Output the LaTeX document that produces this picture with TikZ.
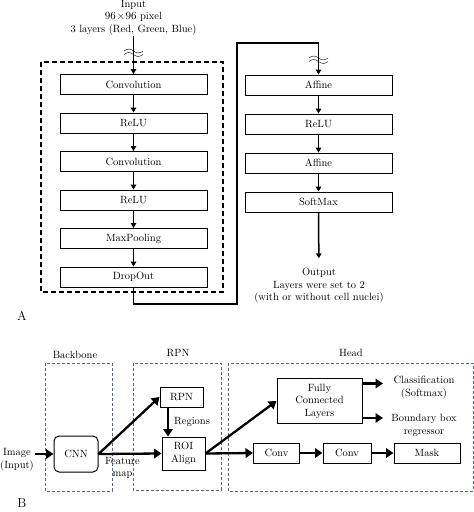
\documentclass[tikz,border=0pt]{standalone}
\usepackage{tikz}
\usetikzlibrary{arrows.meta, positioning}

\definecolor{grpblue}{RGB}{90,102,130}

\begin{document}
\begin{tikzpicture}[
        x=1pt, y=-1pt,
        font=\fontsize{10.5}{12.5}\selectfont,
        node distance=17.5pt,
        layer/.style={rectangle, draw=black, line width=1pt, minimum width=147pt, minimum height=20pt, inner sep=0pt},
        block/.style={rectangle, draw=black, line width=1pt, align=center, inner sep=2pt},
        note/.style={align=center, inner sep=1pt},
        frame/.style={draw=black, line width=1.6pt, dash pattern=on 5pt off 3pt},
        group/.style={draw=grpblue, line width=0.8pt, dash pattern=on 3pt off 2pt},
        arrow/.style={-{Triangle[length=5pt, width=5.5pt]}, line width=1.5pt},
        bigarrow/.style={-{Triangle[length=7.5pt, width=9.5pt]}, line width=2.3pt},
        tag/.style={font=\fontsize{13}{14}\selectfont}
    ]
        \useasboundingbox (0,0) rectangle (474,512);

        % A: network for nuclei classification
        \node[note] (input) at (133.5,17.5) {Input\\$96\!\times\!96$ pixel\\3 layers (Red, Green, Blue)};
        \node[layer] (conv1) at (133.5,84.5) {Convolution};
        \node[layer, below=of conv1] (relu1) {ReLU};
        \node[layer, below=of relu1] (conv2) {Convolution};
        \node[layer, below=of conv2] (relu2) {ReLU};
        \node[layer, below=of relu2] (pool) {MaxPooling};
        \node[layer, below=of pool] (drop) {DropOut};
        \draw[frame] (41,62) rectangle (223,292);

        \node[layer] (aff1) at (318.5,85) {Affine};
        \node[layer, below=18pt of aff1] (relu3) {ReLU};
        \node[layer, below=18pt of relu3] (aff2) {Affine};
        \node[layer, below=18pt of aff2] (soft) {SoftMax};
        \node[note] (output) at (319,286) {Output\\Layers were set to 2\\(with or without cell nuclei)};
        \node[tag] (tagA) at (22,316) {A};

        \draw[arrow] (input) -- (conv1);
        \draw[arrow] (conv1) -- (relu1);
        \draw[arrow] (relu1) -- (conv2);
        \draw[arrow] (conv2) -- (relu2);
        \draw[arrow] (relu2) -- (pool);
        \draw[arrow] (pool) -- (drop);
        \draw[arrow, line width=1.8pt] (drop.south) |- (237,304) -- (237,43) -| (aff1.north);
        \draw[arrow] (aff1) -- (relu3);
        \draw[arrow] (relu3) -- (aff2);
        \draw[arrow] (aff2) -- (soft);
        \draw[arrow, shorten >=9pt] (soft) -- (output);

        % breaks
        \draw[thin] (124,51) sin (128.75,49) cos (133.5,51) sin (138.25,53) cos (143,51);
        \draw[thin] (124,54.5) sin (128.75,52.5) cos (133.5,54.5) sin (138.25,56.5) cos (143,54.5);
        \draw[thin] (309,58) sin (313.75,56) cos (318.5,58) sin (323.25,60) cos (328,58);
        \draw[thin] (309,61.5) sin (313.75,59.5) cos (318.5,61.5) sin (323.25,63.5) cos (328,61.5);

        % B: Mask R-CNN
        \draw[group] (45,363) rectangle (112,491);
        \draw[group] (133,363) rectangle (221,490);
        \draw[group] (228,363) rectangle (473,491);
        \node[note] (lblbackbone) at (75,355) {Backbone};
        \node[note] (lblrpn) at (178,353) {RPN};
        \node[note] (lblhead) at (351,353) {Head};

        \node[note] (image) at (17,459.5) {Image\\(Input)};
        \node[block, rounded corners=5pt, minimum width=44pt, minimum height=36pt] (cnn) at (76,454) {CNN};
        \node[block, minimum width=43pt, minimum height=20pt] (rpn) at (181.5,397) {RPN};
        \node[block, minimum width=43pt, minimum height=33pt] (roi) at (183.5,453.5) {ROI\\Align};
        \node[block, minimum width=85pt, minimum height=45pt] (fc) at (319.5,401) {Fully\\Connected\\Layers};
        \node[block, minimum width=46pt, minimum height=20pt] (convA) at (276.5,453) {Conv};
        \node[block, minimum width=48pt, minimum height=20pt] (convB) at (347,453) {Conv};
        \node[block, minimum width=66pt, minimum height=20pt] (mask) at (427,453) {Mask};
        \node[note] (cls) at (424,387.5) {Classification\\(Softmax)};
        \node[note] (bbox) at (424,425.5) {Boundary box\\regressor};
        \node[tag] (tagB) at (22,503) {B};

        \draw[bigarrow] (image.east |- cnn.west) -- (cnn.west);
        \draw[bigarrow] (cnn.east) -- (rpn.west);
        \draw[bigarrow] (cnn.east) -- node[note, below=1pt, pos=0.38]{Feature\\map} (roi.west);
        \draw[bigarrow] ([xshift=-13.5pt]rpn.south) -- node[note, right=4pt]{Regions} ([xshift=-13.5pt]rpn.south |- roi.north);
        \draw[bigarrow] (roi.east) -- (fc.west);
        \draw[bigarrow] (roi.east) -- (convA.west);
        \draw[bigarrow] (convA) -- (convB);
        \draw[bigarrow] (convB) -- (mask);
        \draw[bigarrow] (fc.east |- cls.west) ++(0,-4) -- (383,383.5);
        \draw[bigarrow] (fc.east |- bbox.west) ++(0,-7.5) -- (383,418);
    \end{tikzpicture}
\end{document}
